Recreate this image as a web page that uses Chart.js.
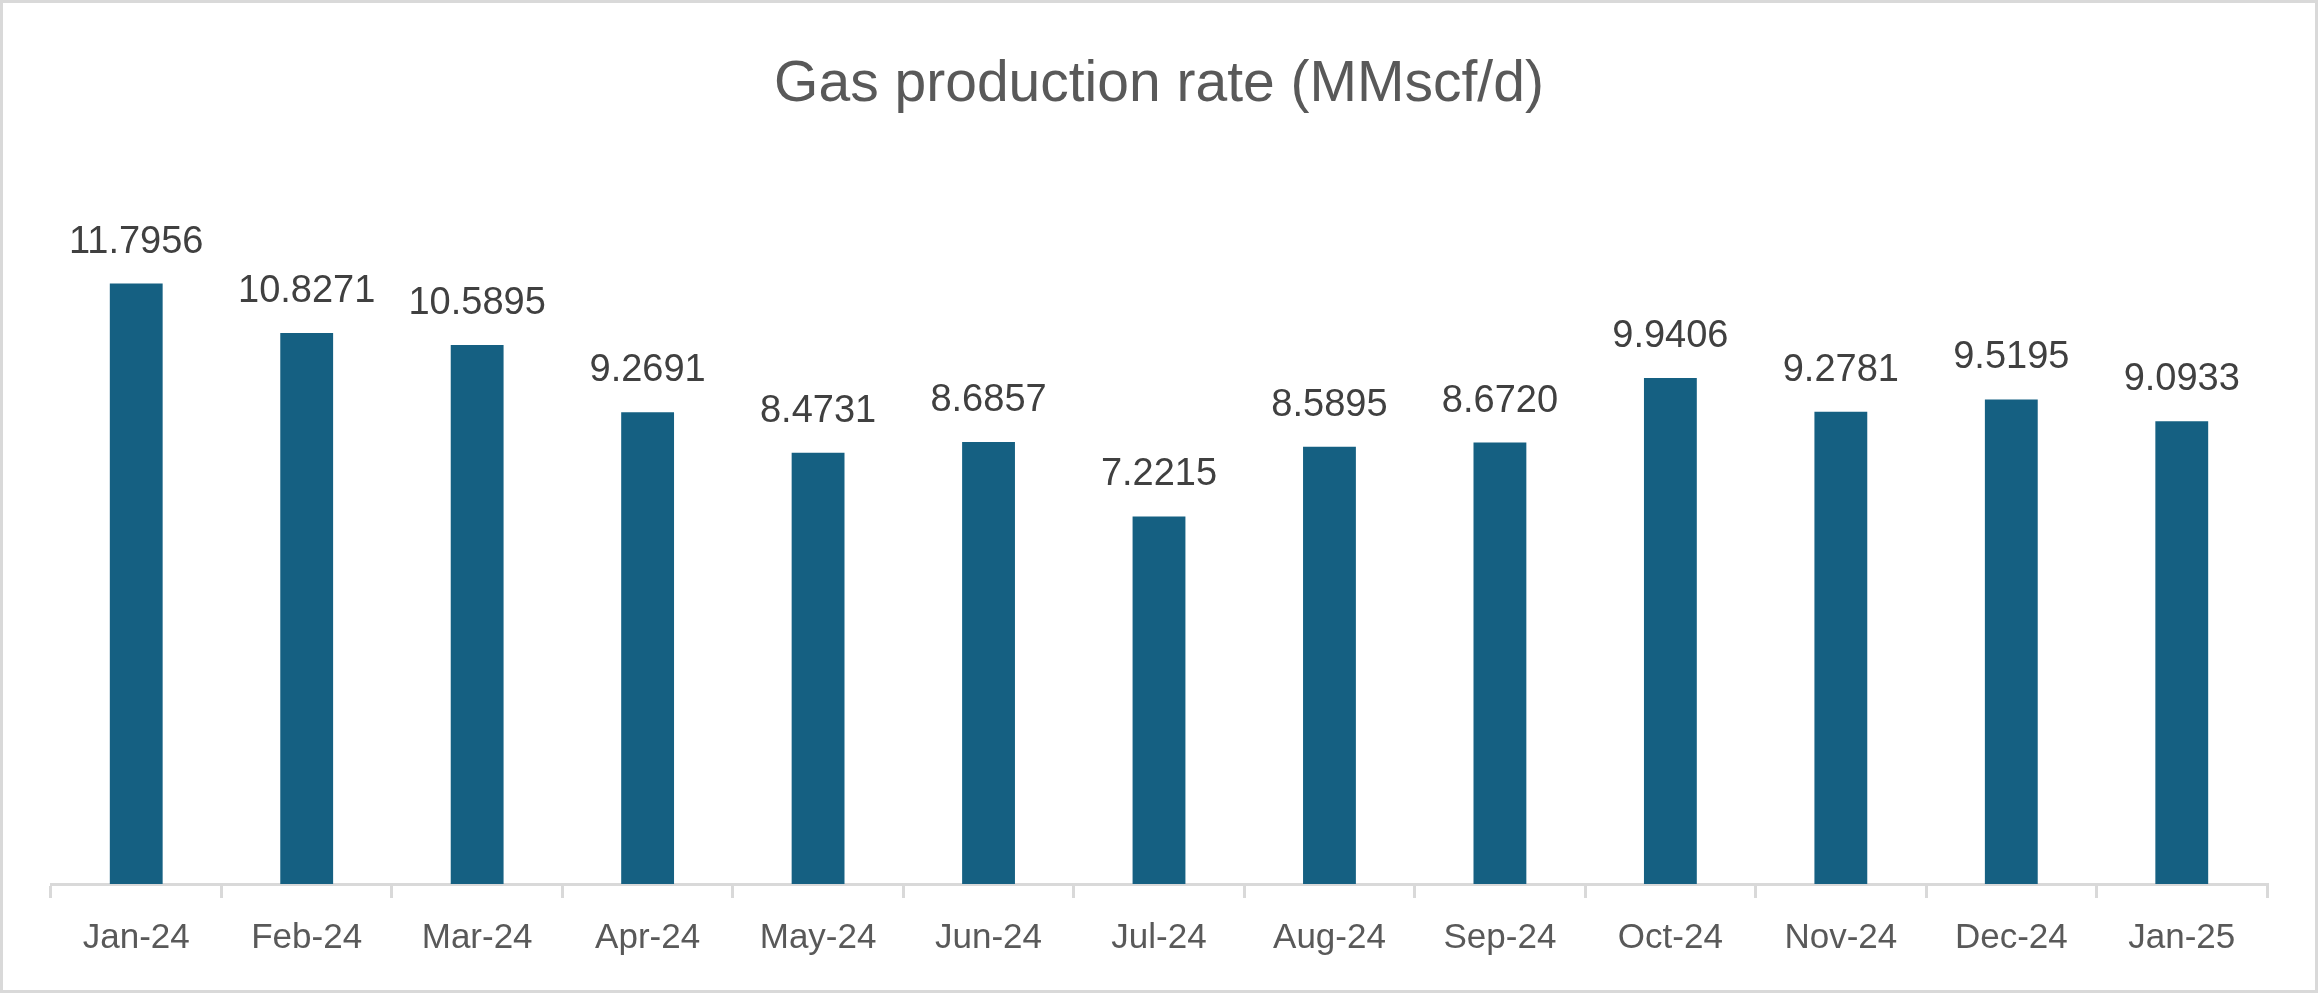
<!DOCTYPE html>
<html lang="en">
<head>
    <meta charset="UTF-8">
    <title>Gas production rate</title>
    <script src="https://cdn.jsdelivr.net/npm/chart.js"></script>
    <style>
        html, body { margin: 0; padding: 0; background: #fff; }
        .frame {
            width: 2318px;
            height: 993px;
            box-sizing: border-box;
            border: 3px solid #d9d9d9;
            background: #fff;
        }
        canvas { display: block; }
    </style>
</head>
<body>
    <div class="frame">
        <canvas id="gasChart" width="2312" height="987"></canvas>
    </div>

    <script>
        // data
        const months = ['Jan-24', 'Feb-24', 'Mar-24', 'Apr-24', 'May-24', 'Jun-24', 'Jul-24',
                        'Aug-24', 'Sep-24', 'Oct-24', 'Nov-24', 'Dec-24', 'Jan-25'];
        const gasRate = [11.7956, 10.8271, 10.5895, 9.2691, 8.4731, 8.6857, 7.2215,
                         8.5895, 8.6720, 9.9406, 9.2781, 9.5195, 9.0933];
        const chartTitle = 'Gas production rate (MMscf/d)';

        const FONT = '"Liberation Sans", Arial, sans-serif';

        // value labels above each bar
        const barLabels = {
            id: 'barLabels',
            afterDatasetsDraw(chart) {
                const ctx = chart.ctx;
                const meta = chart.getDatasetMeta(0);
                ctx.save();
                ctx.font = '38px ' + FONT;
                ctx.fillStyle = '#404040';
                ctx.textAlign = 'center';
                ctx.textBaseline = 'alphabetic';
                meta.data.forEach((bar, i) => {
                    ctx.fillText(gasRate[i].toFixed(4), bar.x, bar.y - 31);
                });
                ctx.restore();
            }
        };

        new Chart(document.getElementById('gasChart'), {
            type: 'bar',
            data: {
                labels: months,
                datasets: [{
                    label: 'Gas production rate',
                    data: gasRate,
                    backgroundColor: '#156082',
                    borderWidth: 0,
                    barPercentage: 0.31,
                    categoryPercentage: 1.0
                }]
            },
            options: {
                responsive: false,
                animation: false,
                layout: {
                    padding: { left: 48, right: 48, top: 0, bottom: 12 }
                },
                plugins: {
                    legend: { display: false },
                    tooltip: { enabled: false },
                    title: {
                        display: true,
                        text: chartTitle,
                        color: '#595959',
                        font: { family: FONT, size: 57, weight: 'normal' },
                        padding: { top: 48, bottom: 52 }
                    }
                },
                scales: {
                    x: {
                        offset: true,
                        grid: {
                            display: true,
                            offset: true,
                            drawOnChartArea: false,
                            drawTicks: true,
                            tickLength: 14,
                            color: '#d9d9d9',
                            lineWidth: 3
                        },
                        border: { display: true, color: '#d9d9d9', width: 3 },
                        ticks: {
                            color: '#595959',
                            font: { family: FONT, size: 35 },
                            padding: 19,
                            maxRotation: 0,
                            autoSkip: false
                        }
                    },
                    y: {
                        display: false,
                        min: 0,
                        max: 14
                    }
                }
            },
            plugins: [barLabels]
        });
    </script>
</body>
</html>
